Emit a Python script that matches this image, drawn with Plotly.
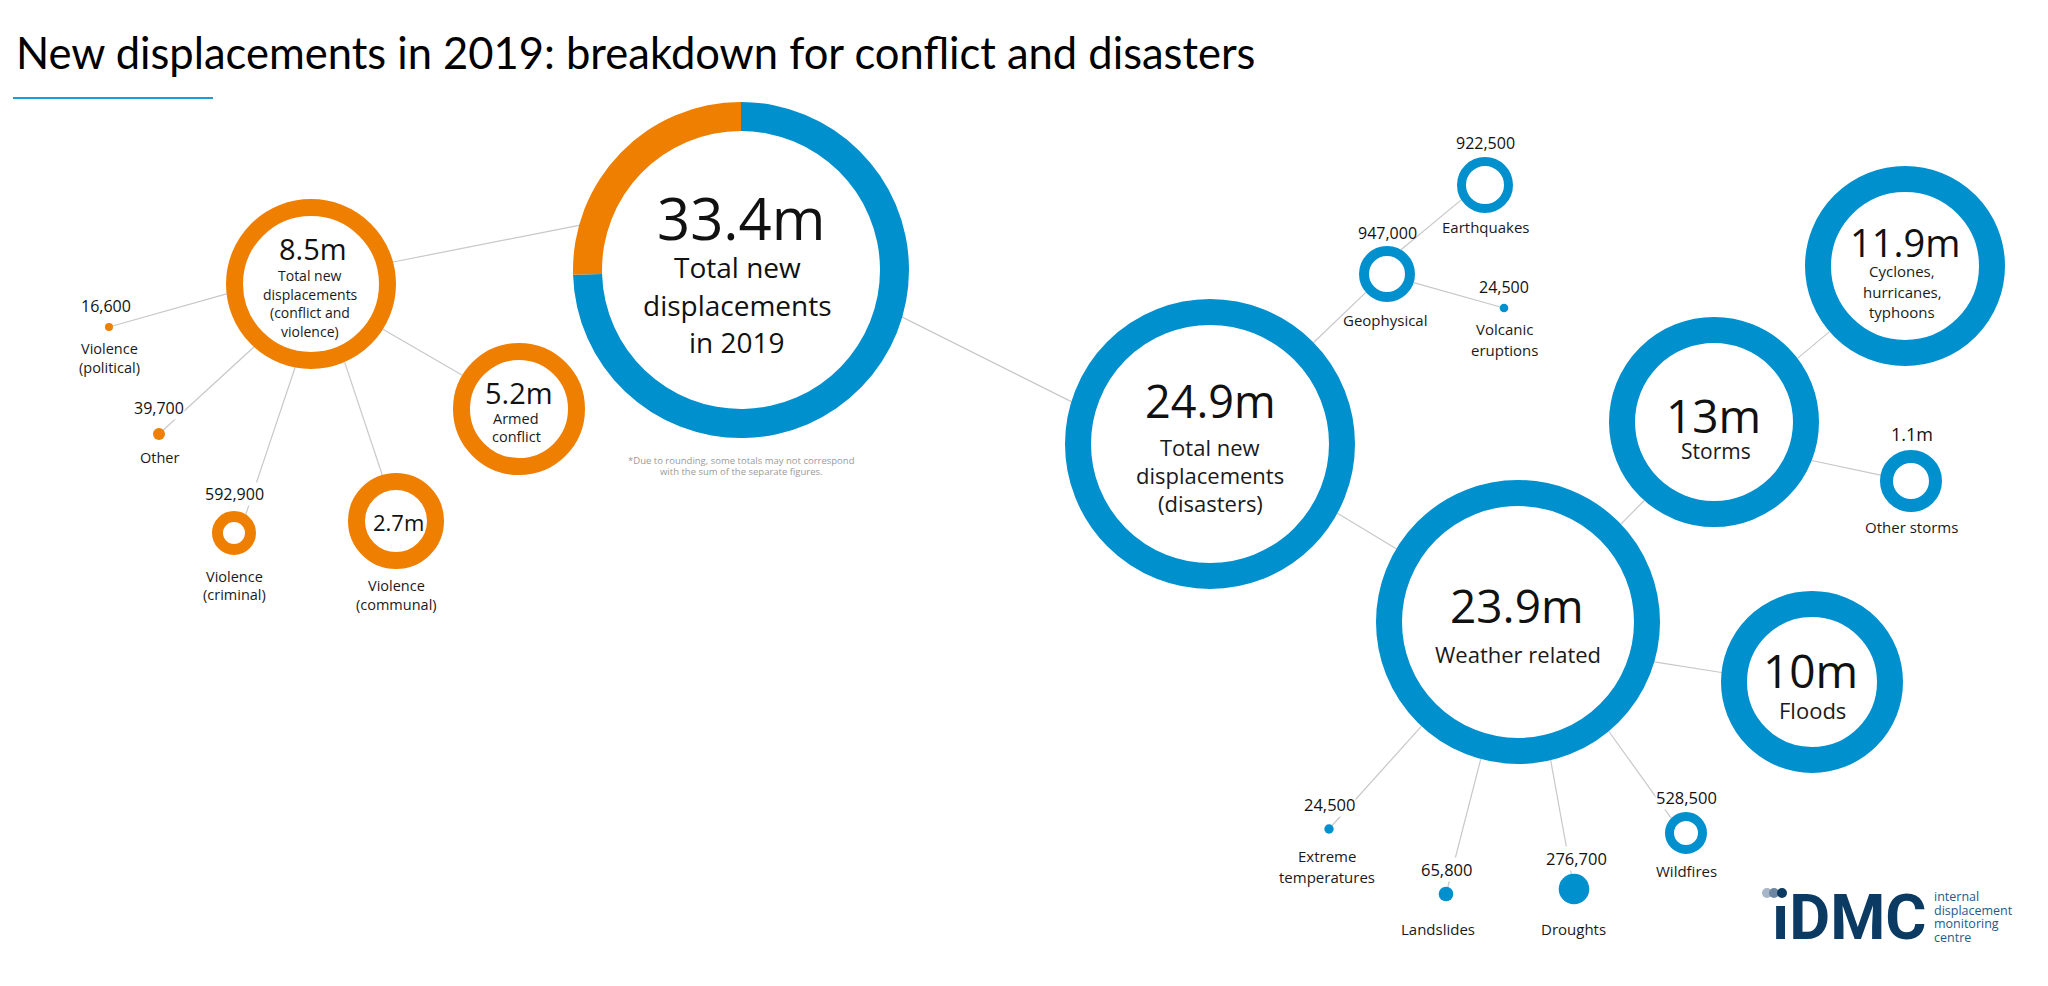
import math
import plotly.graph_objects as go

# ---------------------------------------------------------------- data
title_text = "New displacements in 2019: breakdown for conflict and disasters"

split_labels = ["Conflict and violence", "Disasters"]
split_values = [8.5, 24.9]                      # millions
total_value = 33.4e6
total_name = ["Total new", "displacements", "in 2019"]

node_ids = ["conflict", "armed", "communal", "criminal", "other_c", "political",
            "disasters", "geo", "quake", "volcano", "weather", "storms",
            "cyclones", "other_s", "floods", "wildfires", "droughts",
            "landslides", "extreme"]
node_values = [8.5e6, 5.2e6, 2.7e6, 592900, 39700, 16600,
               24.9e6, 947000, 922500, 24500, 23.9e6, 13e6,
               11.9e6, 1.1e6, 10e6, 528500, 276700,
               65800, 24500]
node_names = [["Total new", "displacements", "(conflict and", "violence)"],
              ["Armed", "conflict"], ["Violence", "(communal)"],
              ["Violence", "(criminal)"], ["Other"], ["Violence", "(political)"],
              ["Total new", "displacements", "(disasters)"], ["Geophysical"],
              ["Earthquakes"], ["Volcanic", "eruptions"], ["Weather related"],
              ["Storms"], ["Cyclones,", "hurricanes,", "typhoons"],
              ["Other storms"], ["Floods"], ["Wildfires"], ["Droughts"],
              ["Landslides"], ["Extreme", "temperatures"]]
node_group = ["conflict"] * 6 + ["disaster"] * 13

edges = [("total", "conflict"), ("total", "disasters"),
         ("conflict", "armed"), ("conflict", "communal"), ("conflict", "criminal"),
         ("conflict", "other_c"), ("conflict", "political"),
         ("disasters", "geo"), ("disasters", "weather"),
         ("geo", "quake"), ("geo", "volcano"),
         ("weather", "storms"), ("weather", "floods"), ("weather", "wildfires"),
         ("weather", "droughts"), ("weather", "landslides"), ("weather", "extreme"),
         ("storms", "cyclones"), ("storms", "other_s")]

footnote = ["*Due to rounding, some totals may not correspond",
            "with the sum of the separate figures."]
logo_word = "\u0131DMC"
logo_lines = ["internal", "displacement", "monitoring", "centre"]

# ---------------------------------------------------------------- layout (pixels)
W, H = 2048, 986
ORANGE = "#EF7F00"
BLUE = "#0090CD"
GREY_LINE = "#C8C8C8"
INK = "#111111"
FONT = "Open Sans"

total_pos = (741, 270)
total_r, total_t = 168, 29

node_x = [311, 519, 396, 234, 159, 109, 1210, 1387, 1485, 1504, 1518, 1714,
          1905, 1911, 1812, 1686, 1574, 1446, 1329]
node_y = [284, 409, 521, 533, 434, 327, 444, 274, 185, 308, 622, 422,
          266, 481, 682, 833, 889, 894, 829]
node_r = [85, 66, 48, 22, 6, 4, 145, 28, 28, 4.3, 142, 105,
          100, 31, 91, 21, 15.3, 7.3, 4.7]
node_t = [17, 17, 17, 11, 0, 0, 26, 10, 9, 0, 26, 26,
          26, 13, 26, 9, 0, 0, 0]          # ring thickness, 0 = solid dot
# value label: dx, dy, font size ; name label: dx, dy, font size, line spacing
num_lab = [(2, -36, 29), (0, -17, 29), (2, 1, 22), (0, -39, 16), (0, -26, 16),
           (-3, -21, 16), (0, -44, 45), (0, -41, 16), (0, -42, 16), (0, -21, 16),
           (-1, -17, 46), (-1, -7, 46), (0, -24, 38), (1, -47, 18), (-2, -12, 46),
           (0, -36, 16.5), (2, -31, 16.5), (0, -25, 16.5), (0, -25, 16.5)]
name_lab = [(-1, 19.5, 14, 18.5), (-3, 18.5, 14.5, 18.5), (0, 73.5, 14.5, 19),
            (0, 52, 14.5, 18), (0, 23, 14.5, 19), (0, 30.5, 14.5, 19),
            (0, 31, 22, 28.3), (-2, 46, 15, 21), (1, 42, 15, 21), (0, 31.5, 15, 21),
            (0, 32, 22, 28), (2, 29, 21, 28), (-3, 25.5, 15, 20.5), (0, 46, 15, 21),
            (0, 28, 22, 28), (0, 38, 15, 21), (-1, 40, 15, 21), (-8, 35, 15, 21),
            (-2, 37.5, 15, 21)]
label_bg = {"criminal", "other_c", "wildfires", "droughts", "landslides", "extreme"}

# attach angle (degrees, screen coords) at parent / child end; None = centre
edge_angles = [(195.4, -15), (16.3, 197),
               (32.2, -149.2), (66.7, -106.6), (100.8, -57.6), (132.2, None), (173.3, None),
               (-44.4, 139), (28.5, -149),
               (-60, 148), (18, None),
               (-43.6, 131.6), (16.3, -174), (50.3, -135), (76.7, None), (105.2, None), (132.8, None),
               (-37.3, 139), (21.5, -169)]


def fmt(v):
    if v >= 1e6:
        s = f"{v / 1e6:.1f}"
        if s.endswith(".0"):
            s = s[:-2]
        return s + "m"
    return f"{int(round(v)):,}"


pos = {"total": (total_pos[0], total_pos[1], total_r)}
for i, nid in enumerate(node_ids):
    pos[nid] = (node_x[i], node_y[i], node_r[i])


def attach(nid, ang):
    x, y, r = pos[nid]
    if ang is None:
        return x, y
    a = math.radians(ang)
    return x + r * math.cos(a), y + r * math.sin(a)


fig = go.Figure()

# connectors
ex, ey = [], []
for (a, b), (aa, ab) in zip(edges, edge_angles):
    p, q = attach(a, aa), attach(b, ab)
    ex += [p[0], q[0], None]
    ey += [p[1], q[1], None]
fig.add_trace(go.Scatter(x=ex, y=ey, mode="lines", hoverinfo="skip",
                         line=dict(color=GREY_LINE, width=1.2)))

# nodes (rings / dots)
sizes, fills, lws, lcols = [], [], [], []
for i in range(len(node_ids)):
    col = ORANGE if node_group[i] == "conflict" else BLUE
    r, t = node_r[i], node_t[i]
    if t == 0:
        sizes.append(2 * r); fills.append(col); lws.append(0); lcols.append(col)
    else:
        sizes.append(2 * r - t); fills.append("white"); lws.append(t); lcols.append(col)
fig.add_trace(go.Scatter(
    x=node_x, y=node_y, mode="markers",
    marker=dict(size=sizes, color=fills, opacity=1,
                line=dict(width=lws, color=lcols)),
    text=[" ".join(n) + ": " + f"{int(v):,}" for n, v in zip(node_names, node_values)],
    hoverinfo="text"))

# total ring split conflict / disasters (conflict share runs anticlockwise from 12 o'clock)
cx, cy = total_pos
fig.add_trace(go.Pie(
    values=split_values[::-1], labels=split_labels[::-1], sort=False,
    direction="clockwise", rotation=0,
    marker=dict(colors=[BLUE, ORANGE], line=dict(width=0)),
    hole=(total_r - total_t) / total_r, textinfo="none",
    domain=dict(x=[(cx - total_r) / W, (cx + total_r) / W],
                y=[1 - (cy + total_r) / H, 1 - (cy - total_r) / H]),
    showlegend=False))


def text_block(lines, x, yc, size, spacing, color=INK, family=FONT, bg=None,
               xanchor="center"):
    n = len(lines)
    for k, s in enumerate(lines):
        y = yc + (k - (n - 1) / 2) * spacing
        fig.add_annotation(x=x, y=y, xref="x", yref="y", text=s, showarrow=False,
                           xanchor=xanchor, yanchor="middle",
                           font=dict(family=family, size=size, color=color),
                           bgcolor=bg, borderpad=0)


# total labels
text_block([fmt(total_value)], cx, cy - 53, 58, 0)
text_block(total_name, cx - 4, cy + 34.5, 28, 37.5)

for i, nid in enumerate(node_ids):
    x, y = node_x[i], node_y[i]
    ndx, ndy, nsz = num_lab[i]
    tdx, tdy, tsz, tsp = name_lab[i]
    bg = "white" if nid in label_bg else None
    text_block([fmt(node_values[i])], x + ndx, y + ndy, nsz, 0, bg=bg)
    text_block(node_names[i], x + tdx, y + tdy, tsz, tsp, color="#1a1a1a")

# footnote
text_block(footnote, 741, 466, 9.5, 11, color="#9a9a9a")

# title + rule
fig.add_annotation(x=14, y=52, xref="x", yref="y", text=title_text, showarrow=False,
                   xanchor="left", yanchor="middle",
                   font=dict(family="Lato", size=43.5, color="#000000"))
fig.add_shape(type="line", x0=13, x1=213, y0=98, y1=98, xref="x", yref="y",
              line=dict(color="#1E9CD7", width=2))

# logo
NAVY = "#0B3A63"
fig.add_annotation(x=1770, y=917, xref="x", yref="y", text="<b>" + logo_word + "</b>",
                   showarrow=False, xanchor="left", yanchor="middle",
                   font=dict(family="Roboto", size=63, color=NAVY))
for dx, c in zip([0, 7, 15], ["#A7B6C8", "#6D86A2", NAVY]):
    fig.add_shape(type="circle", xref="x", yref="y",
                  x0=1762 + dx, x1=1772 + dx, y0=888, y1=898,
                  line=dict(width=0), fillcolor=c)
text_block(logo_lines, 1933, 917, 12.5, 13.4, color="#1E5A8E", xanchor="left")

fig.update_xaxes(range=[0, W], visible=False, fixedrange=True)
fig.update_yaxes(range=[H, 0], visible=False, fixedrange=True)
fig.update_layout(width=W, height=H, margin=dict(l=0, r=0, t=0, b=0),
                  paper_bgcolor="white", plot_bgcolor="white", showlegend=False)

fig.write_html("out.html", config={"displayModeBar": False})
